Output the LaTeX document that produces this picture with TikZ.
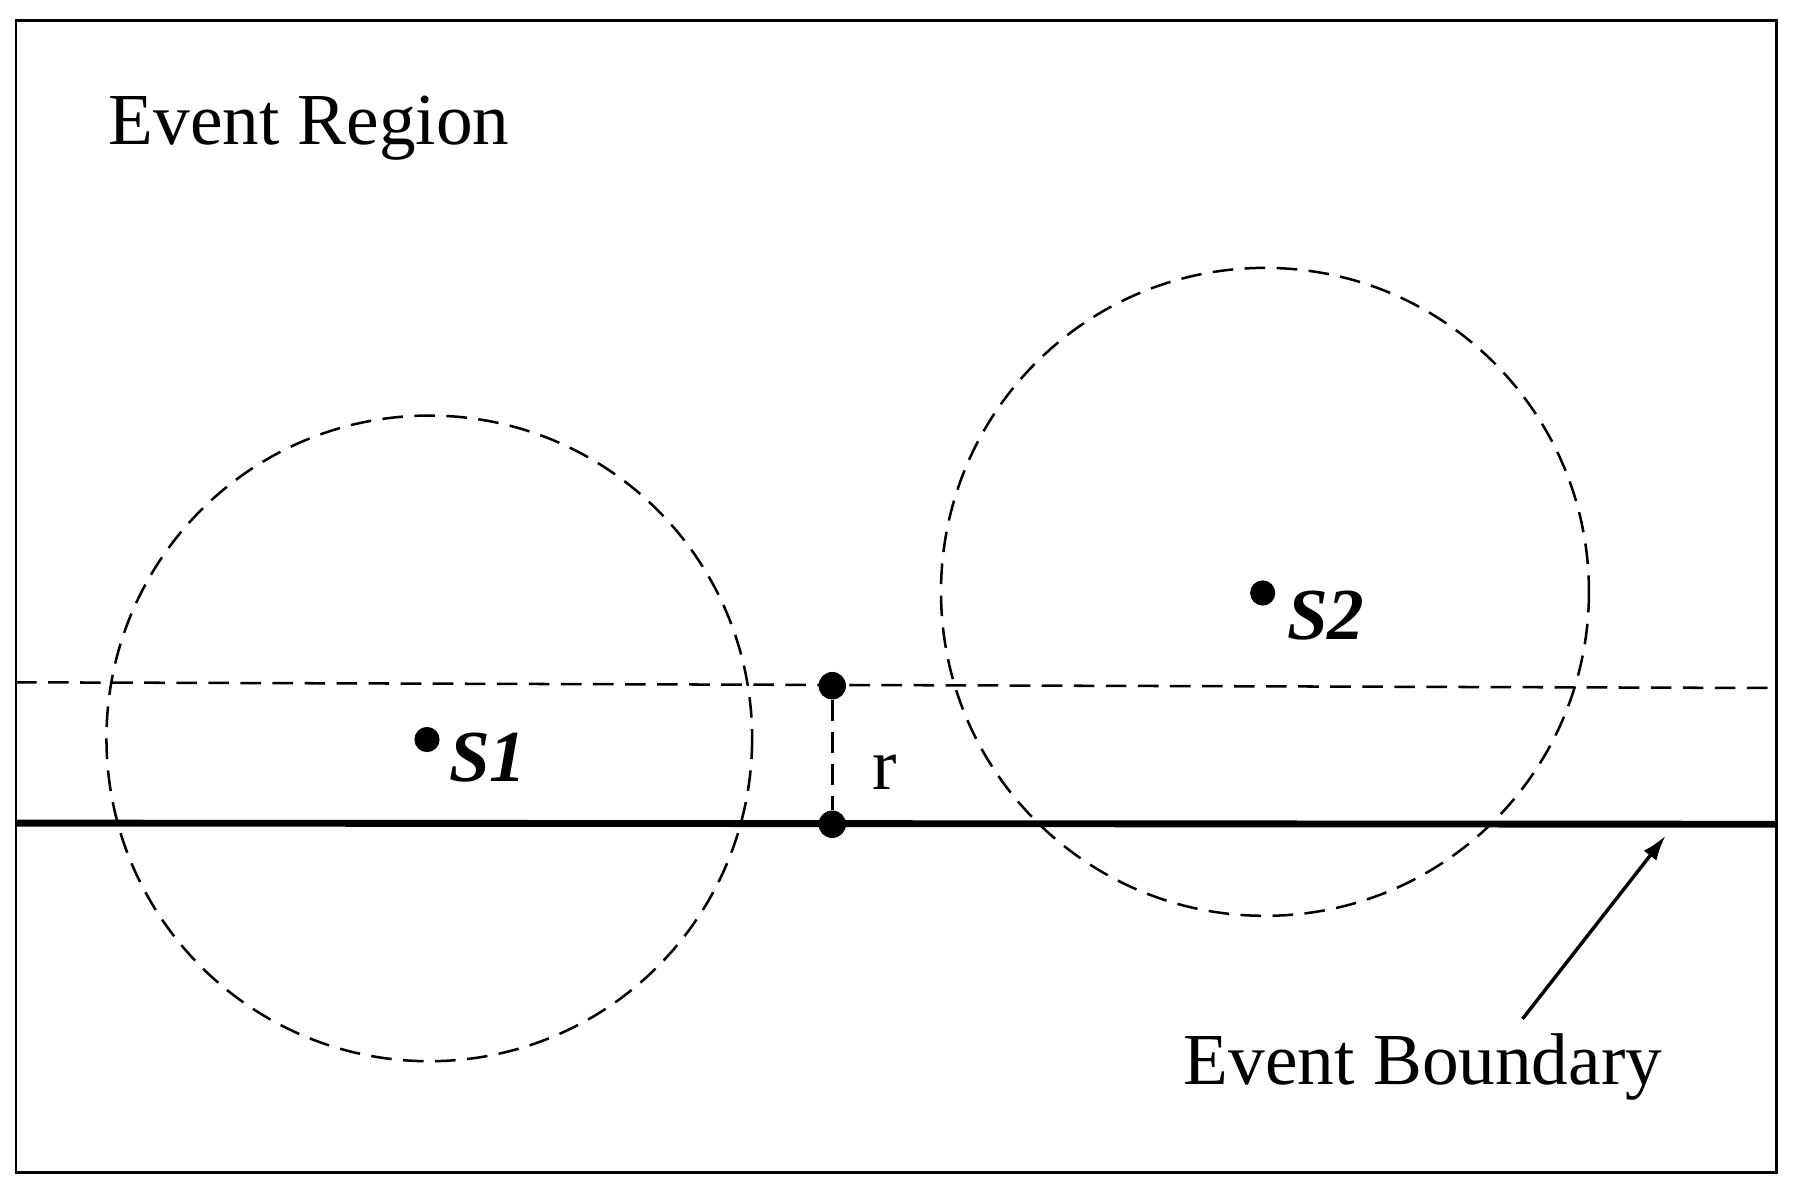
\documentclass[tikz,border=0pt]{standalone}
\usepackage{fontspec}
\setmainfont{Liberation Serif}
\usetikzlibrary{arrows.meta}
\begin{document}
\begin{tikzpicture}[x=0.5pt,y=-0.5pt,
  dsh/.style={dashed,dash pattern=on 9pt off 5pt,line width=1.1pt},
  dot/.style={circle,fill,inner sep=0pt,minimum size=12pt},
  lbl/.style={font=\fontsize{32}{38}\selectfont,inner sep=0pt}]
\useasboundingbox (0,0) rectangle (1568,1044);
\draw[line width=1.2pt] (14,18) rectangle (1552,1024);
\node[lbl] (reg) at (270,112) {Event Region};
\draw[dsh] (375,645) circle (282);
\draw[dsh] (1105,517) circle (283);
\coordinate (dl) at (14,596); \coordinate (dr) at (1552,601);
\draw[dsh] (dl) -- (dr);
\coordinate (bl) at (14,719); \coordinate (br) at (1552,720);
\draw[line width=3pt] (bl) -- (br);
\node[dot] (p1) at (727,599) {};
\node[dot] (p2) at (727,720) {};
\draw[dsh] (p1) -- (p2);
\node[lbl] (r) at (773,675) {r};
\node[dot,minimum size=11pt] (s1) at (373,646) {};
\node[lbl,anchor=west,font=\fontsize{32}{38}\selectfont\bfseries\itshape] (s1l) at (392,662) {S1};
\node[dot,minimum size=11pt] (s2) at (1103,518) {};
\node[lbl,anchor=west,font=\fontsize{32}{38}\selectfont\bfseries\itshape] (s2l) at (1124,538) {S2};
\node[lbl] (eb) at (1243,932) {Event Boundary};
\coordinate (tip) at (1455,730);
\draw[line width=1.5pt,-{Latex[length=11pt,width=7pt]}] (1330,890) -- (tip);
\end{tikzpicture}
\end{document}
